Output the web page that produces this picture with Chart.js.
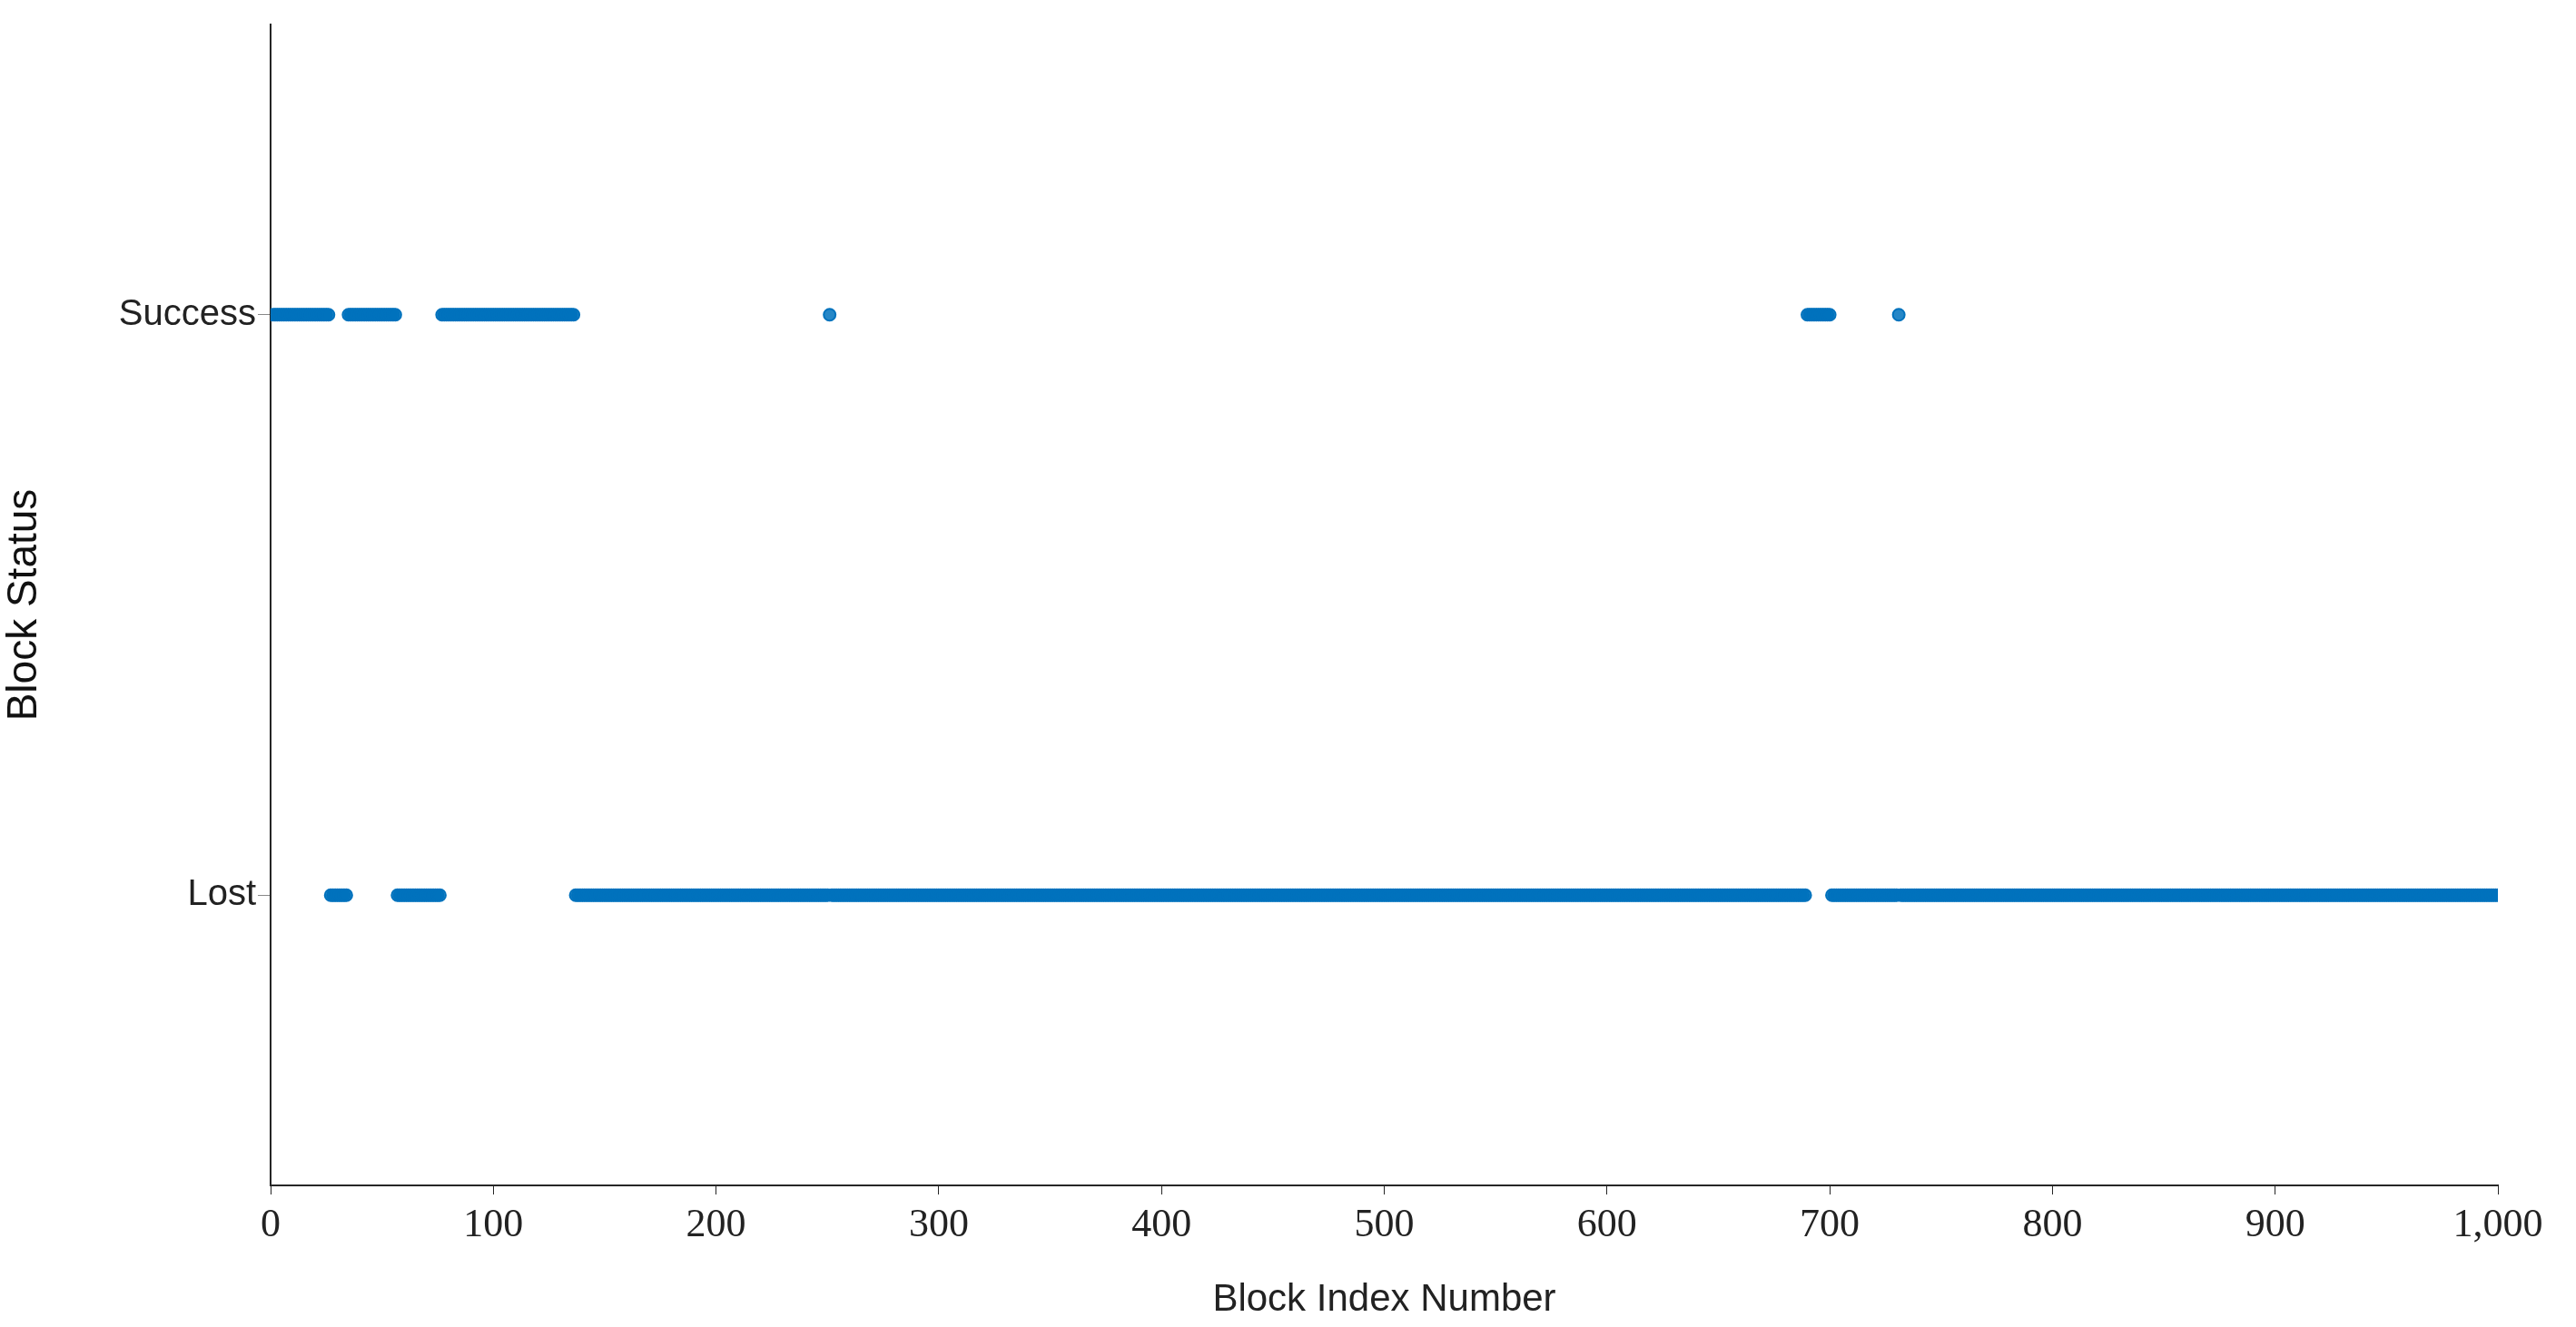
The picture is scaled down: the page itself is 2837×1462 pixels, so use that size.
<!DOCTYPE html>
<html>
<head>
<meta charset="utf-8">
<script src="https://cdn.jsdelivr.net/npm/chart.js@4/dist/chart.umd.min.js"></script>
<style>
  html, body { margin: 0; padding: 0; background: #fff; }
  #wrap { width: 2837px; height: 1462px; }
</style>
</head>
<body>
<div id="wrap"><canvas id="chart"></canvas></div>
<script>
// runs of consecutive block indices: [first, last]
const successRuns = [[1, 26], [35, 56], [77, 136], [251, 251], [690, 700], [731, 731]];
const lostRuns = [[27, 34], [57, 76], [137, 250], [252, 689], [701, 730], [732, 1000]];
const statusLabels = ['Lost', 'Success'];
const xTicks = [0, 100, 200, 300, 400, 500, 600, 700, 800, 900, 1000];

function expandRuns(runs, status) {
    const pts = [];
    runs.forEach(([a, b]) => {
        for (let i = a; i <= b; i++) pts.push({ x: i, y: status });
    });
    return pts;
}

const points = expandRuns(successRuns, 1).concat(expandRuns(lostRuns, 0));

const axisColor = '#262626';
const tickFont = { family: 'Liberation Sans Narrow', size: 44 };

new Chart(document.getElementById('chart'), {
    type: 'scatter',
    data: {
        datasets: [{
            data: points,
            pointRadius: 6.5,
            pointBorderWidth: 2,
            pointBackgroundColor: 'rgba(0, 114, 189, 0.85)',
            pointBorderColor: '#0072BD',
        }]
    },
    options: {
        responsive: true,
        maintainAspectRatio: false,
        animation: false,
        layout: { padding: { top: 27, right: 86, left: 0, bottom: 0 } },
        plugins: { legend: { display: false }, tooltip: { enabled: false } },
        scales: {
            x: {
                type: 'linear',
                min: 0,
                max: 1000,
                afterBuildTicks: axis => { axis.ticks = xTicks.map(v => ({ value: v })); },
                afterFit: axis => { axis.height = 156; },
                border: { color: axisColor, width: 2 },
                grid: { drawOnChartArea: false, color: axisColor, tickLength: 10 },
                ticks: { color: '#222', font: tickFont, padding: 8, maxRotation: 0 },
                title: {
                    display: true,
                    text: 'Block Index Number',
                    color: '#222',
                    font: { family: 'Liberation Sans', size: 42 },
                    padding: { top: 0, bottom: 4 }
                }
            },
            y: {
                type: 'linear',
                min: -0.5,
                max: 1.5,
                afterBuildTicks: axis => { axis.ticks = [{ value: 0 }, { value: 1 }]; },
                afterFit: axis => { axis.width = 298; },
                border: { color: axisColor, width: 2 },
                grid: { drawOnChartArea: false, color: '#888', tickLength: 14 },
                ticks: {
                    color: '#222',
                    font: { family: 'Liberation Sans', size: 40 },
                    padding: 2,
                    callback: v => statusLabels[v]
                },
                title: {
                    display: true,
                    text: 'Block Status',
                    color: '#111',
                    font: { family: 'Liberation Sans', size: 46 },
                    padding: { top: 0, bottom: 0 }
                }
            }
        }
    }
});
</script>
</body>
</html>
